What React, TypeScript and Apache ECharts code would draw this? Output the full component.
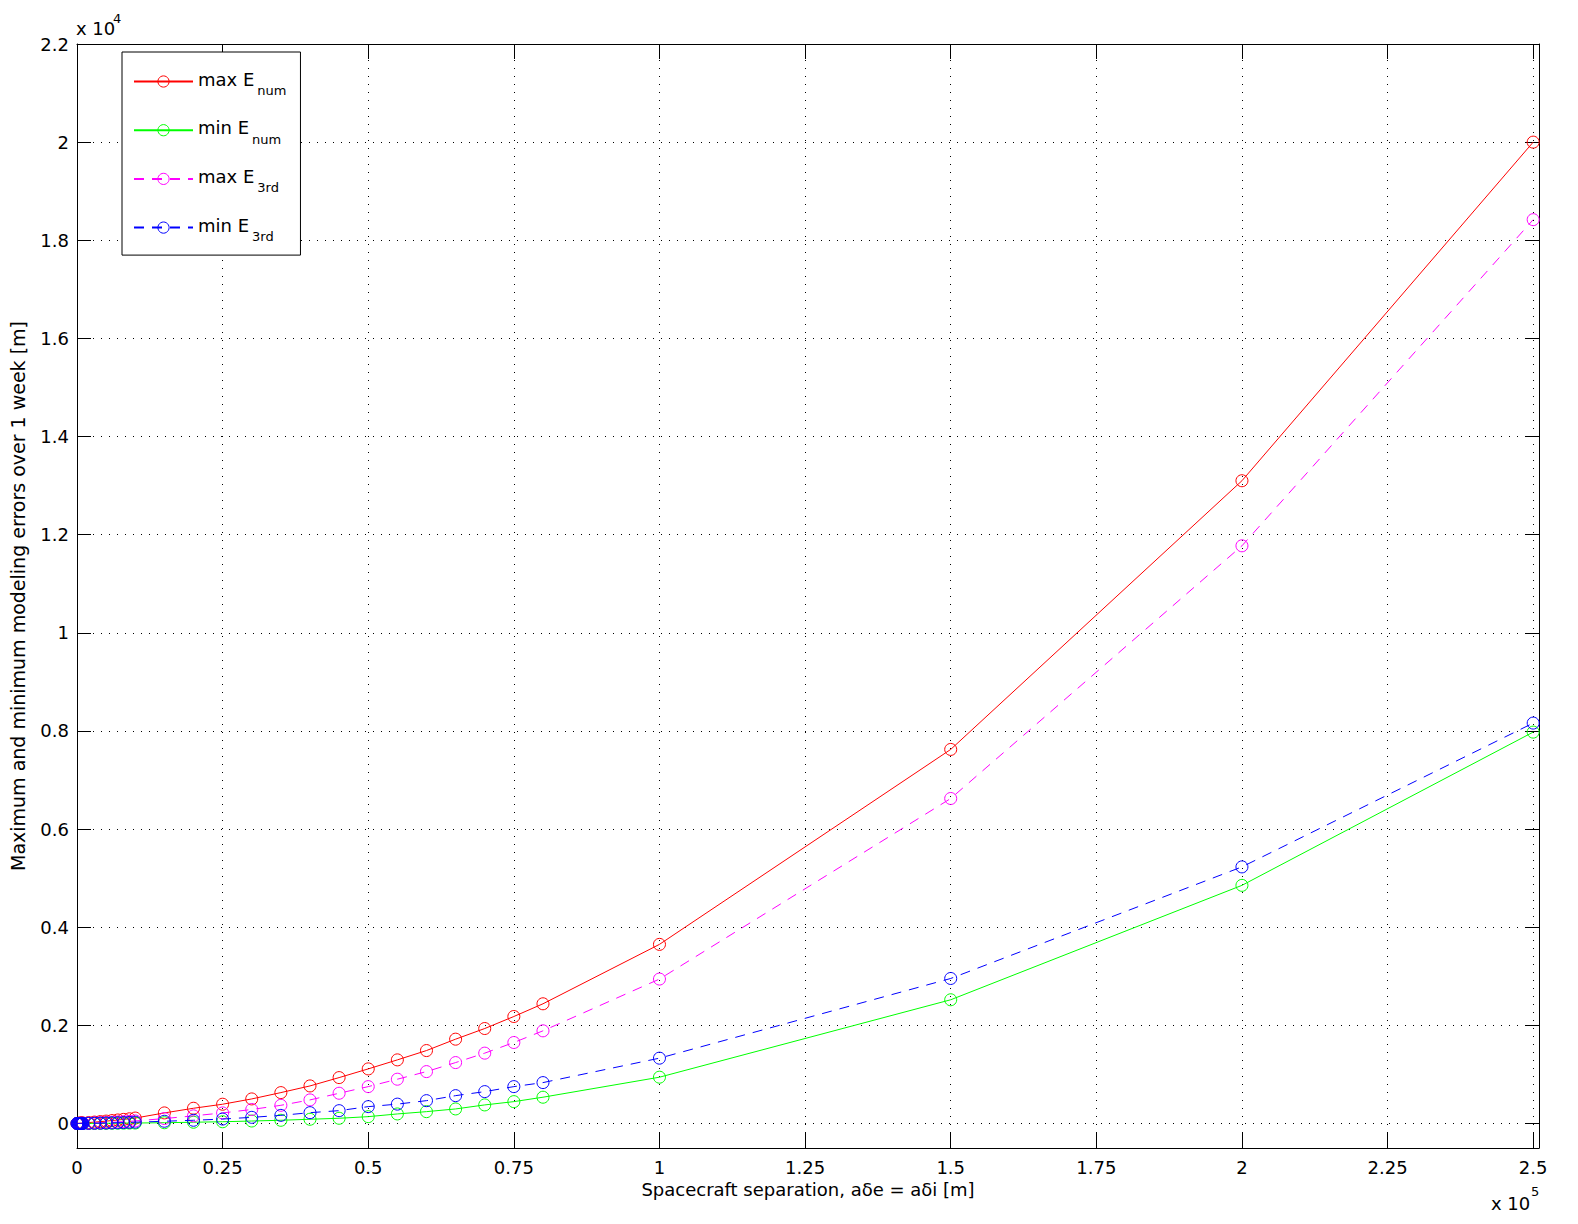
import React, { useEffect, useRef } from 'react';
import * as echarts from 'echarts';

// Spacecraft separation a·δe = a·δi [m]
const separation = [
  0, 100, 200, 300, 400, 500, 600, 700, 800, 900, 1000,
  2000, 3000, 4000, 5000, 6000, 7000, 8000, 9000, 10000,
  15000, 20000, 25000, 30000, 35000, 40000, 45000, 50000, 55000, 60000, 65000, 70000, 75000, 80000,
  100000, 150000, 200000, 250000,
];

const maxENum = [
  0, 1, 2, 3, 4, 5, 5, 6, 7, 8, 9,
  18, 28, 38, 48, 59, 71, 83, 95, 110,
  215, 310, 392, 500, 629, 765, 935, 1112, 1296, 1486, 1718, 1935, 2180, 2439,
  3650, 7623, 13099, 20000,
];

const minENum = [
  0, 0, 0, 0, 0, 0, 0, 0, 0, 0, 0,
  1, 2, 3, 4, 5, 6, 7, 8, 9,
  15, 25, 35, 50, 65, 86, 106, 139, 194, 241, 296, 378, 445, 535,
  943, 2521, 4853, 7976,
];

const maxE3rd = [
  0, 0, 0, 1, 1, 1, 1, 2, 2, 2, 3,
  6, 10, 14, 19, 24, 30, 37, 44, 52,
  100, 155, 215, 285, 370, 480, 616, 751, 902, 1057, 1241, 1433, 1650, 1888,
  2943, 6623, 11773, 18420,
];

const minE3rd = [
  0, 0, 0, 0, 0, 0, 1, 1, 1, 1, 1,
  3, 5, 7, 9, 12, 15, 18, 22, 26,
  45, 65, 90, 125, 165, 220, 261, 343, 394, 465, 567, 649, 751, 833,
  1331, 2955, 5229, 8160,
];

// Axis tick values (labels are shown scaled by x 10^5 and x 10^4)
const xTickValues = [0, 25000, 50000, 75000, 100000, 125000, 150000, 175000, 200000, 225000, 250000];
const yTickValues = [0, 2000, 4000, 6000, 8000, 10000, 12000, 14000, 16000, 18000, 20000, 22000];

const seriesNames = ['max E_num', 'min E_num', 'max E_3rd', 'min E_3rd'];
const seriesColors = ['#ff0000', '#00ff00', '#ff00ff', '#0000ff'];
const seriesDashed = [false, false, true, true];
const seriesValues = [maxENum, minENum, maxE3rd, minE3rd];

const xTitle = 'Spacecraft separation, aδe = aδi [m]';
const yTitle = 'Maximum and minimum modeling errors over 1 week [m]';

const FONT = 'DejaVu Sans';

function fmtNum(v: number, scale: number) {
  return String(parseFloat((v / scale).toFixed(3)));
}

export default function App() {
  const ref = useRef<HTMLDivElement>(null);

  useEffect(() => {
    const chart = echarts.init(ref.current!, null, { renderer: 'svg' });

    const gridLine = { show: true, lineStyle: { color: '#000', width: 1, type: [1, 7] as any } };
    const axisLine = { show: true, onZero: false, lineStyle: { color: '#000', width: 1 } };

    const xBase = {
      type: 'value' as const,
      min: 0,
      max: 251000,
      axisLine,
    };
    const yBase = {
      type: 'value' as const,
      min: -500,
      max: 22000,
      axisLine,
    };

    const xTick = { show: true, inside: true, length: 15, lineStyle: { color: '#000' }, customValues: xTickValues };
    const yTick = { show: true, inside: true, length: 14, lineStyle: { color: '#000' }, customValues: yTickValues };

    const series = seriesNames.map((name, k) => ({
      name,
      type: 'line' as const,
      xAxisIndex: 0,
      yAxisIndex: 0,
      data: separation.map((x, i) => [x, seriesValues[k][i]]),
      symbol: 'circle',
      symbolSize: 12,
      showAllSymbol: true,
      itemStyle: { color: 'rgba(0,0,0,0)', borderColor: seriesColors[k], borderWidth: 1 },
      lineStyle: { color: seriesColors[k], width: 1, type: seriesDashed[k] ? ([10, 8] as any) : 'solid' },
      emphasis: { disabled: true },
      z: 3 + k,
    }));

    chart.setOption({
      animation: false,
      backgroundColor: '#fff',
      textStyle: { fontFamily: FONT },
      grid: { left: 76, top: 44, right: 39, bottom: 76, containLabel: false },
      xAxis: [
        {
          ...xBase,
          position: 'bottom',
          axisTick: xTick,
          axisLabel: {
            show: true,
            color: '#000',
            fontSize: 18,
            fontFamily: FONT,
            margin: 10,
            customValues: xTickValues,
            formatter: (v: number) => fmtNum(v, 1e5),
          },
          splitLine: gridLine,
          name: xTitle,
          nameLocation: 'middle',
          nameGap: 32,
          nameTextStyle: { color: '#000', fontSize: 18, fontFamily: FONT },
        },
        {
          ...xBase,
          position: 'top',
          axisTick: xTick,
          axisLabel: { show: false },
          splitLine: { show: false },
        },
      ],
      yAxis: [
        {
          ...yBase,
          position: 'left',
          axisTick: yTick,
          axisLabel: {
            show: true,
            color: '#000',
            fontSize: 18,
            fontFamily: FONT,
            margin: 8,
            customValues: yTickValues,
            formatter: (v: number) => fmtNum(v, 1e4),
          },
          splitLine: gridLine,
          name: yTitle,
          nameLocation: 'middle',
          nameGap: 50,
          nameRotate: 90,
          nameTextStyle: { color: '#000', fontSize: 19, fontFamily: FONT },
        },
        {
          ...yBase,
          position: 'right',
          axisTick: yTick,
          axisLabel: { show: false },
          splitLine: { show: false },
        },
      ],
      legend: {
        show: true,
        data: seriesNames,
        orient: 'vertical',
        left: 122,
        top: 52,
        padding: [14, 14, 12, 11],
        itemGap: 17.7,
        itemWidth: 59,
        itemHeight: 14,
        borderColor: '#000',
        borderWidth: 1,
        borderRadius: 0,
        backgroundColor: '#fff',
        selectedMode: false,
        itemStyle: { borderWidth: 1 },
        z: 10,
        formatter: (name: string) => {
          const [a, b] = name.split('_');
          return `{m|${a}}{s|${b}}`;
        },
        textStyle: {
          color: '#000',
          fontFamily: FONT,
          fontSize: 18,
          rich: {
            m: { fontSize: 18, fontFamily: FONT, color: '#000', lineHeight: 20, verticalAlign: 'middle', padding: [0, 0, 5, 0] },
            s: { fontSize: 13, fontFamily: FONT, color: '#000', lineHeight: 15, verticalAlign: 'middle', padding: [18, 0, 0, 3] },
          },
        },
      },
      graphic: [
        { type: 'text', left: 76, top: 19, style: { text: 'x 10', fontSize: 18, fontFamily: FONT, fill: '#000' } },
        { type: 'text', left: 113, top: 12, style: { text: '4', fontSize: 13, fontFamily: FONT, fill: '#000' } },
        { type: 'text', left: 1491, top: 1194, style: { text: 'x 10', fontSize: 18, fontFamily: FONT, fill: '#000' } },
        { type: 'text', left: 1531, top: 1185, style: { text: '5', fontSize: 13, fontFamily: FONT, fill: '#000' } },
      ],
      series,
    });

    return () => chart.dispose();
  }, []);

  return (
    <div
      ref={ref}
      style={{ position: 'absolute', left: 0, top: 0, width: 1578, height: 1224, background: '#fff' }}
    />
  );
}
